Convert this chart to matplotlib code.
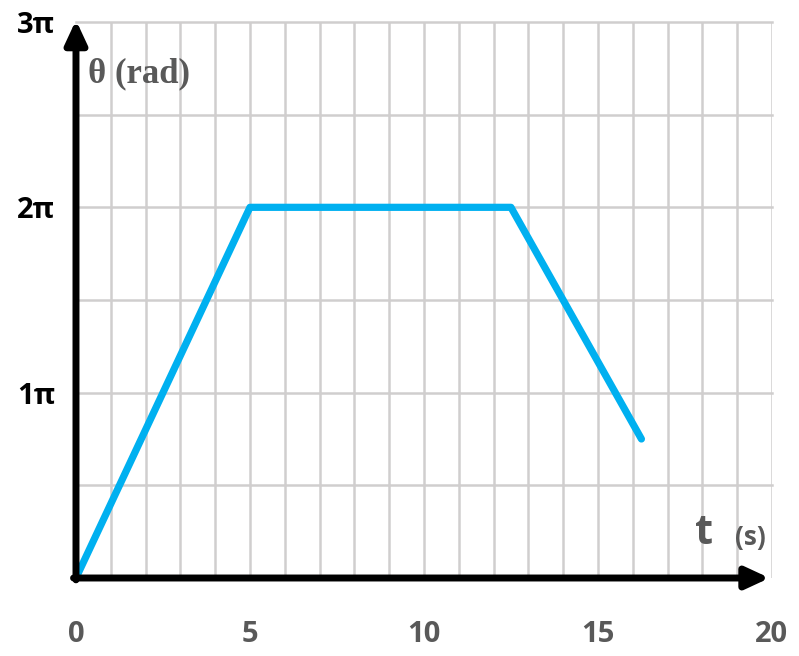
import numpy as np
import matplotlib
matplotlib.use("Agg")
import matplotlib.pyplot as plt

# data (theta in units of pi)
t = [0, 5, 12.5, 16.25]
theta_pi = [0, 2, 2, 0.75]
x_ticks = [0, 5, 10, 15, 20]
y_ticks = [1, 2, 3]
y_labels = ['1π', '2π', '3π']

fig = plt.figure(figsize=(7.99, 6.56), dpi=100)
ax = fig.add_axes([0.0951, 0.1189, 0.871, 0.8476])
ax.set_xlim(0, 20)
ax.set_ylim(0, 3)

# grid
for x in range(1, 21):
    ax.axvline(x, color='#D0CECE', lw=1.8, zorder=0)
for y in np.arange(0.5, 3.01, 0.5):
    ax.axhline(y, color='#D0CECE', lw=1.8, zorder=0, clip_on=False)

ax.plot(t, theta_pi, color='#00B0F0', lw=5.2, solid_capstyle='round', zorder=3)

for s in ax.spines.values():
    s.set_visible(False)

# axis arrows
ax.annotate('', xy=(0, 3.01), xytext=(0, -0.01), xycoords='data',
            arrowprops=dict(arrowstyle='-|>,head_length=1.4,head_width=0.65', lw=5,
                            color='black', shrinkA=0, shrinkB=0), annotation_clip=False, zorder=5)
ax.annotate('', xy=(19.93, 0), xytext=(-0.07, 0), xycoords='data',
            arrowprops=dict(arrowstyle='-|>,head_length=1.4,head_width=0.65', lw=5,
                            color='black', shrinkA=0, shrinkB=0), annotation_clip=False, zorder=5)

ax.set_xticks(x_ticks)
ax.set_xticklabels([str(v) for v in x_ticks], fontfamily='Open Sans', fontweight='bold',
                   fontsize=21, color='#595959')
ax.set_yticks(y_ticks)
ax.set_yticklabels(y_labels, fontfamily='Open Sans', fontweight='bold', fontsize=21, color='black')
ax.tick_params(axis='x', length=0, pad=30)
ax.tick_params(axis='y', length=0, pad=15)

ax.text(0.35, 2.72, 'θ (rad)', fontfamily='Liberation Serif', fontweight='bold', fontsize=25,
        color='#595959', va='center', ha='left')
ax.text(17.8, 0.24, 't', fontfamily='Open Sans', fontweight='bold', fontsize=30,
        color='#595959', va='center', ha='left')
ax.text(18.95, 0.22, '(s)', fontfamily='Open Sans', fontweight='bold', fontsize=19,
        color='#595959', va='center', ha='left')

fig.savefig('out.png', dpi=100)
